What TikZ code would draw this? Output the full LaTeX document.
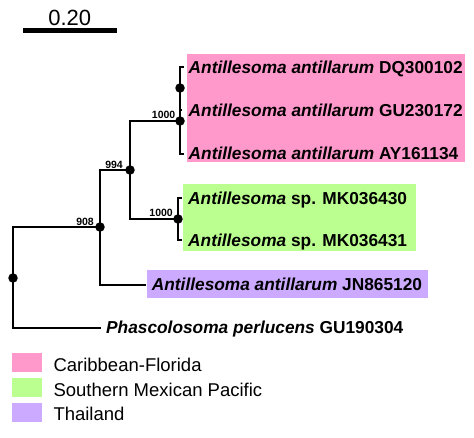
\documentclass[tikz,border=0pt]{standalone}
\usepackage{fontspec}
\setmainfont{Liberation Sans}
\definecolor{carib}{HTML}{FF99CC}
\definecolor{mexpac}{HTML}{BBFF90}
\definecolor{thai}{HTML}{CCAAFF}
\begin{document}
\begin{tikzpicture}[x=1pt,y=-1pt,
  branch/.style={line width=2pt,line cap=rect},
  taxon/.style={anchor=base west,inner sep=0pt,font=\fontsize{17.3}{20}\selectfont\bfseries},
  boot/.style={anchor=base east,inner sep=0pt,font=\fontsize{10.5}{12}\selectfont\bfseries},
  legtext/.style={anchor=base west,inner sep=0pt,font=\fontsize{18.5}{22}\selectfont},
  dot/.style={circle,fill=black,inner sep=0pt,minimum size=9.5pt}]
\useasboundingbox (0,0) rectangle (474,437);
% colour boxes
\fill[carib] (187,54) rectangle (465,162);
\fill[mexpac] (183,184) rectangle (416,251);
\fill[thai] (147,270) rectangle (428,298);
% scale bar
\node[inner sep=0pt,font=\fontsize{22}{26}\selectfont] (sclab) at (69.7,18) {0.20};
\coordinate (sbl) at (23,30.5);
\coordinate (sbr) at (117,30.5);
\draw[line width=5pt] (sbl) -- (sbr);
% tree coordinates
\coordinate (t1) at (183,67);
\coordinate (t2) at (181,110);
\coordinate (t3) at (183,154);
\coordinate (n1) at (180,88);
\coordinate (n2) at (180,121);
\coordinate (n3) at (130,170);
\coordinate (g1) at (181,198);
\coordinate (g2) at (181,240);
\coordinate (n4) at (178,219);
\coordinate (n5) at (100,227);
\coordinate (jn) at (145,285);
\coordinate (root) at (13,278);
\coordinate (ph) at (100,328);
% branches
\draw[branch] (n1) |- (t1);
\draw[branch] (n1) |- (t2);
\draw[branch] (n2) |- (n1);
\draw[branch] (n2) |- (t3);
\draw[branch] (n3) |- (n2);
\draw[branch] (n3) |- (n4);
\draw[branch] (n4) |- (g1);
\draw[branch] (n4) |- (g2);
\draw[branch] (n5) |- (n3);
\draw[branch] (n5) |- (jn);
\draw[branch] (root) |- (n5);
\draw[branch] (root) |- (ph);
% node dots
\foreach \p in {n1,n2,n3,n4,n5,root} \node[dot] at (\p) {};
% bootstrap labels
\node[boot] (b1) at (175.5,118) {1000};
\node[boot] (b2) at (123,168) {994};
\node[boot] (b3) at (173,216.5) {1000};
\node[boot] (b4) at (94,225) {908};
% taxa
\node[taxon] (l1) at (188.5,73.3) {\itshape Antillesoma antillarum\/ \upshape DQ300102};
\node[taxon] (l2) at (188.5,116.8) {\itshape Antillesoma antillarum\/ \upshape GU230172};
\node[taxon] (l3) at (188.5,159.8) {\itshape Antillesoma antillarum\/ \upshape AY161134};
\node[taxon] (l4) at (188,204.3) {\itshape Antillesoma\/ \upshape sp. MK036430};
\node[taxon] (l5) at (188,246.3) {\itshape Antillesoma\/ \upshape sp. MK036431};
\node[taxon] (l6) at (151.7,290.8) {\itshape Antillesoma antillarum\/ \upshape JN865120};
\node[taxon] (l7) at (106,333.8) {\itshape Phascolosoma perlucens\/ \upshape GU190304};
% legend
\fill[carib] (12,353) rectangle (42,372);
\fill[mexpac] (12,378) rectangle (42,397);
\fill[thai] (12,403) rectangle (42,422);
\node[legtext] (k1) at (53.3,371.7) {Caribbean-Florida};
\node[legtext] (k2) at (53.3,396) {Southern Mexican Pacific};
\node[legtext] (k3) at (53.3,420.7) {Thailand};
\end{tikzpicture}
\end{document}
